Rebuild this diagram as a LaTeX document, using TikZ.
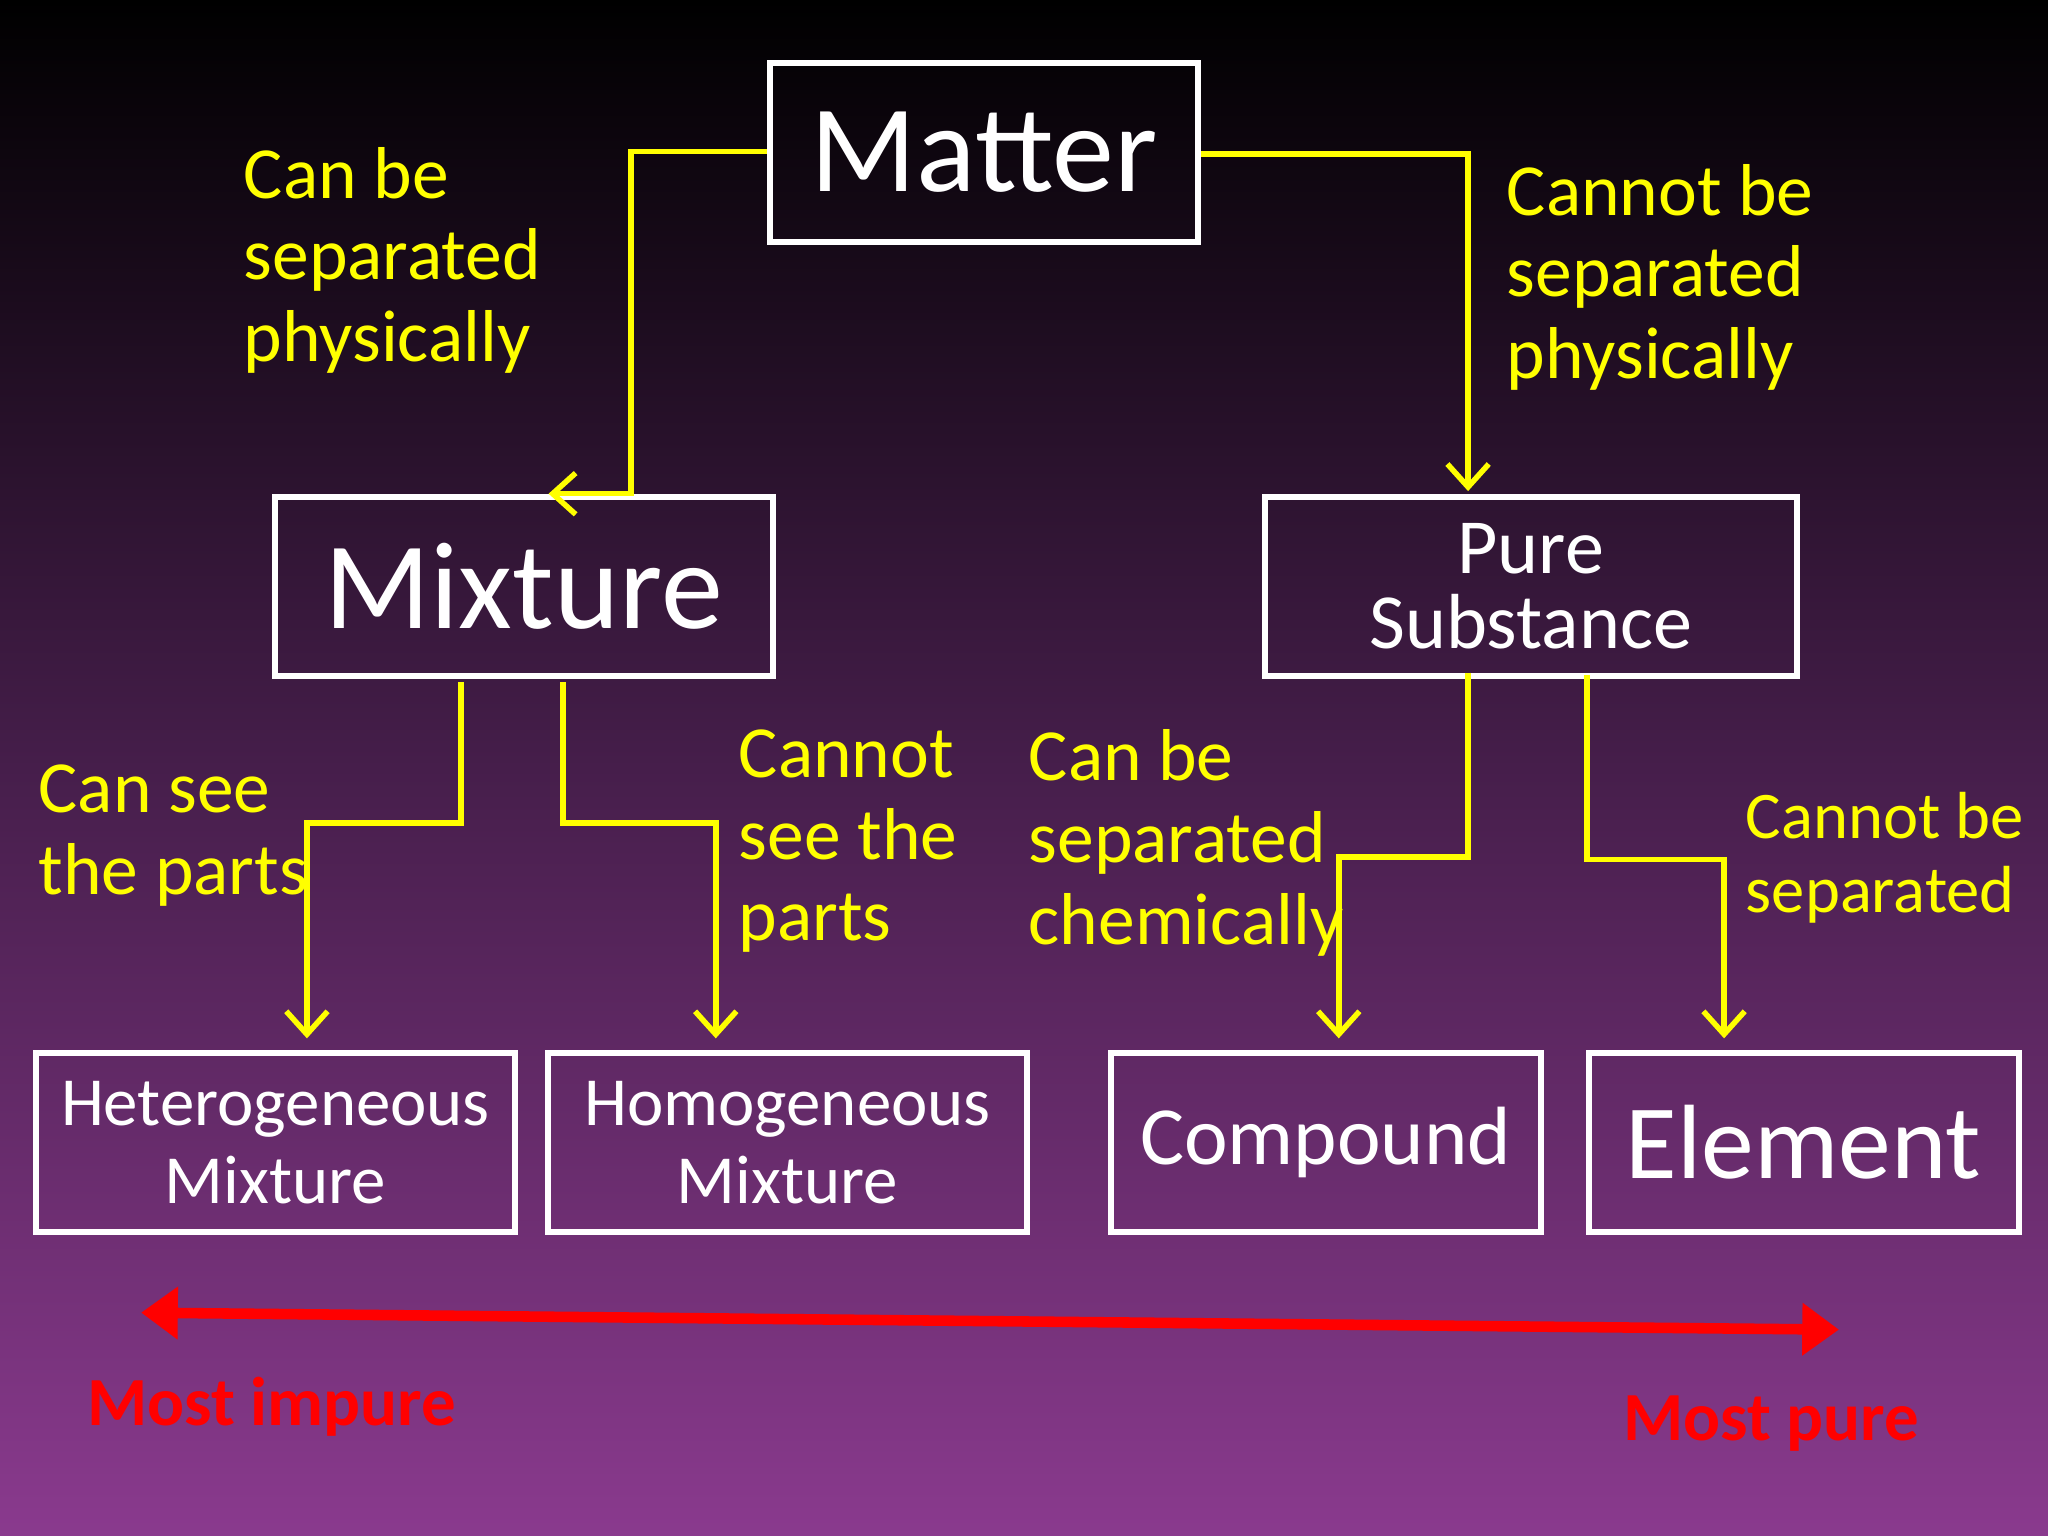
\documentclass[tikz,border=0pt]{standalone}
\usepackage{fontspec}
\setmainfont{Carlito}
\usetikzlibrary{arrows.meta}
\definecolor{ylw}{RGB}{255,255,0}
\definecolor{botpur}{RGB}{138,58,142}
\begin{document}
\begin{tikzpicture}[x=0.01cm,y=-0.01cm,
 box/.style={draw=white,line width=1.3pt,text=white,align=center,inner sep=0pt,anchor=north west},
 lab/.style={text=ylw,align=left,anchor=north west,inner sep=0pt},
 con/.style={draw=ylw,line width=1.2pt,-{Straight Barb[length=5pt,width=9pt]}},
 redtxt/.style={text=red,font=\bfseries\fontsize{15}{18}\selectfont}]
\shade[top color=black,bottom color=botpur,middle color={rgb,255:red,70;green,30;blue,75}] (0,0) rectangle (1568,1176);
\useasboundingbox (0,0) rectangle (1568,1176);
\node[box,minimum width=3.28cm,minimum height=1.37cm,font=\fontsize{27}{29}\selectfont] (matter) at (587,46) {Matter};
\node[box,minimum width=3.81cm,minimum height=1.37cm,font=\fontsize{27}{29}\selectfont] (mix) at (208,378) {Mixture};
\node[box,minimum width=4.07cm,minimum height=1.37cm,font=\fontsize{17}{16.5}\selectfont] (pure) at (966,378) {Pure\\Substance};
\node[box,minimum width=3.67cm,minimum height=1.37cm,font=\fontsize{15}{17}\selectfont] (het) at (25,804) {Heterogeneous\\Mixture};
\node[box,minimum width=3.67cm,minimum height=1.37cm,font=\fontsize{15}{17}\selectfont] (hom) at (417,804) {Homogeneous\\Mixture};
\node[box,minimum width=3.29cm,minimum height=1.37cm,font=\fontsize{18}{20}\selectfont] (comp) at (848,804) {Compound};
\node[box,minimum width=3.29cm,minimum height=1.37cm,font=\fontsize{23}{25}\selectfont] (elem) at (1214,804) {Element};
\coordinate (a1) at (483,116); \coordinate (a2) at (483,378); \coordinate (a3) at (420,378);
\draw[con] (matter.west|-a1) -- (a1) -- (a2) -- (a3);
\coordinate (b1) at (1124,118); \coordinate (b2) at (1124,376);
\draw[con] (matter.east|-b1) -- (b1) -- (b2);
\coordinate (c0) at (353,522); \coordinate (c1) at (353,630); \coordinate (c2) at (235,630); \coordinate (c3) at (235,795);
\draw[con] (c0) -- (c1) -- (c2) -- (c3);
\coordinate (d0) at (431,522); \coordinate (d1) at (431,630); \coordinate (d2) at (548,630); \coordinate (d3) at (548,795);
\draw[con] (d0) -- (d1) -- (d2) -- (d3);
\coordinate (e0) at (1124,515); \coordinate (e1) at (1124,656); \coordinate (e2) at (1025,656); \coordinate (e3) at (1025,795);
\draw[con] (e0) -- (e1) -- (e2) -- (e3);
\coordinate (f0) at (1215,517); \coordinate (f1) at (1215,658); \coordinate (f2) at (1320,658); \coordinate (f3) at (1320,795);
\draw[con] (f0) -- (f1) -- (f2) -- (f3);
\node[lab,font=\fontsize{16}{17.8}\selectfont] (l1) at (186,112) {Can be\\separated\\physically};
\node[lab,font=\fontsize{16}{17.8}\selectfont] (l2) at (1153,125) {Cannot be\\separated\\physically};
\node[lab,font=\fontsize{16}{17.8}\selectfont] (l3) at (29,585) {Can see\\the parts};
\node[lab,font=\fontsize{16}{17.8}\selectfont] (l4) at (565,558) {Cannot\\see the\\parts};
\node[lab,font=\fontsize{16}{17.8}\selectfont] (l5) at (787,558) {Can be\\separated\\chemically};
\node[lab,font=\fontsize{14.5}{16}\selectfont] (l6) at (1336,606) {Cannot be\\separated};
\coordinate (r1) at (108,1005); \coordinate (r2) at (1408,1018);
\draw[draw=red,fill=red,line width=2.3pt,{Triangle[length=8pt,width=11pt]}-{Triangle[length=8pt,width=11pt]}] (r1) -- (r2);
\node[redtxt] (mi) at (208,1077) {Most impure};
\node[redtxt] (mp) at (1356,1090) {Most pure};
\end{tikzpicture}
\end{document}
